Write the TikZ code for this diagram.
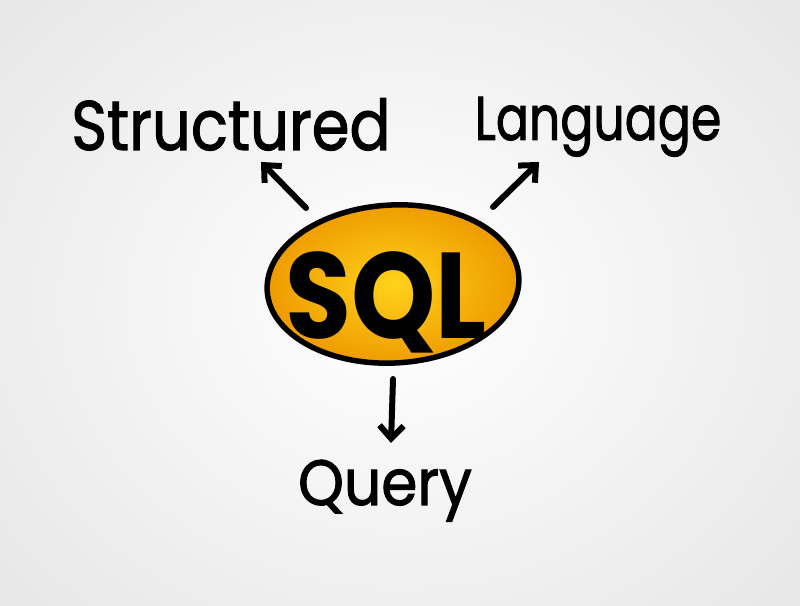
\documentclass[tikz,border=0pt]{standalone}
\usepackage{fontspec}
\setmainfont{Poppins}
\newfontfamily\handfont{Poppins}[FakeBold=1.6]
\usetikzlibrary{shapes.geometric,arrows.meta,shadings}
\definecolor{bgedge}{HTML}{E4E4E4}
\definecolor{ellin}{HTML}{FFD21A}
\definecolor{ellout}{HTML}{EE9A00}
\tikzset{
  word/.style={font=\fontsize{70}{80}\handfont, text=black, inner sep=0pt, anchor=base, transform shape},
  arr/.style={line width=6pt, line cap=round, line join=round, -{Straight Barb[length=13pt,width=24pt,line width=6pt]}},
}
\begin{document}
\begin{tikzpicture}[x=1pt,y=1pt]
\useasboundingbox (0,0) rectangle (800,605);
\shade[inner color=white, outer color=bgedge] (-200,-200) rectangle (1000,805);
% ellipse
\node[ellipse, minimum width=252pt, minimum height=158pt, draw=black, line width=5.5pt,
      inner color=ellin, outer color=ellout, rotate=3] (sql) at (393,321) {};
\node[word, font=\fontsize{122}{130}\selectfont\bfseries, xscale=0.88] (sqlt) at (386,266) {SQL};
% labels
\node[word, xscale=0.87] (struct) at (231,455) {Structured};
\node[word, font=\fontsize{62}{70}\handfont, xscale=0.79] (lang) at (598,465) {Language};
\node[word, font=\fontsize{64}{70}\handfont, xscale=0.91] (query) at (385,100) {Query};
% arrows
\coordinate (a1s) at (306,397);
\coordinate (a1e) at (261,443);
\coordinate (a2s) at (493,398);
\coordinate (a2e) at (539,443);
\coordinate (a3s) at (393,226);
\coordinate (a3e) at (391,162);
\draw[arr] (a1s) -- (a1e);
\draw[arr] (a2s) -- (a2e);
\draw[arr] (a3s) -- (a3e);
\end{tikzpicture}
\end{document}
